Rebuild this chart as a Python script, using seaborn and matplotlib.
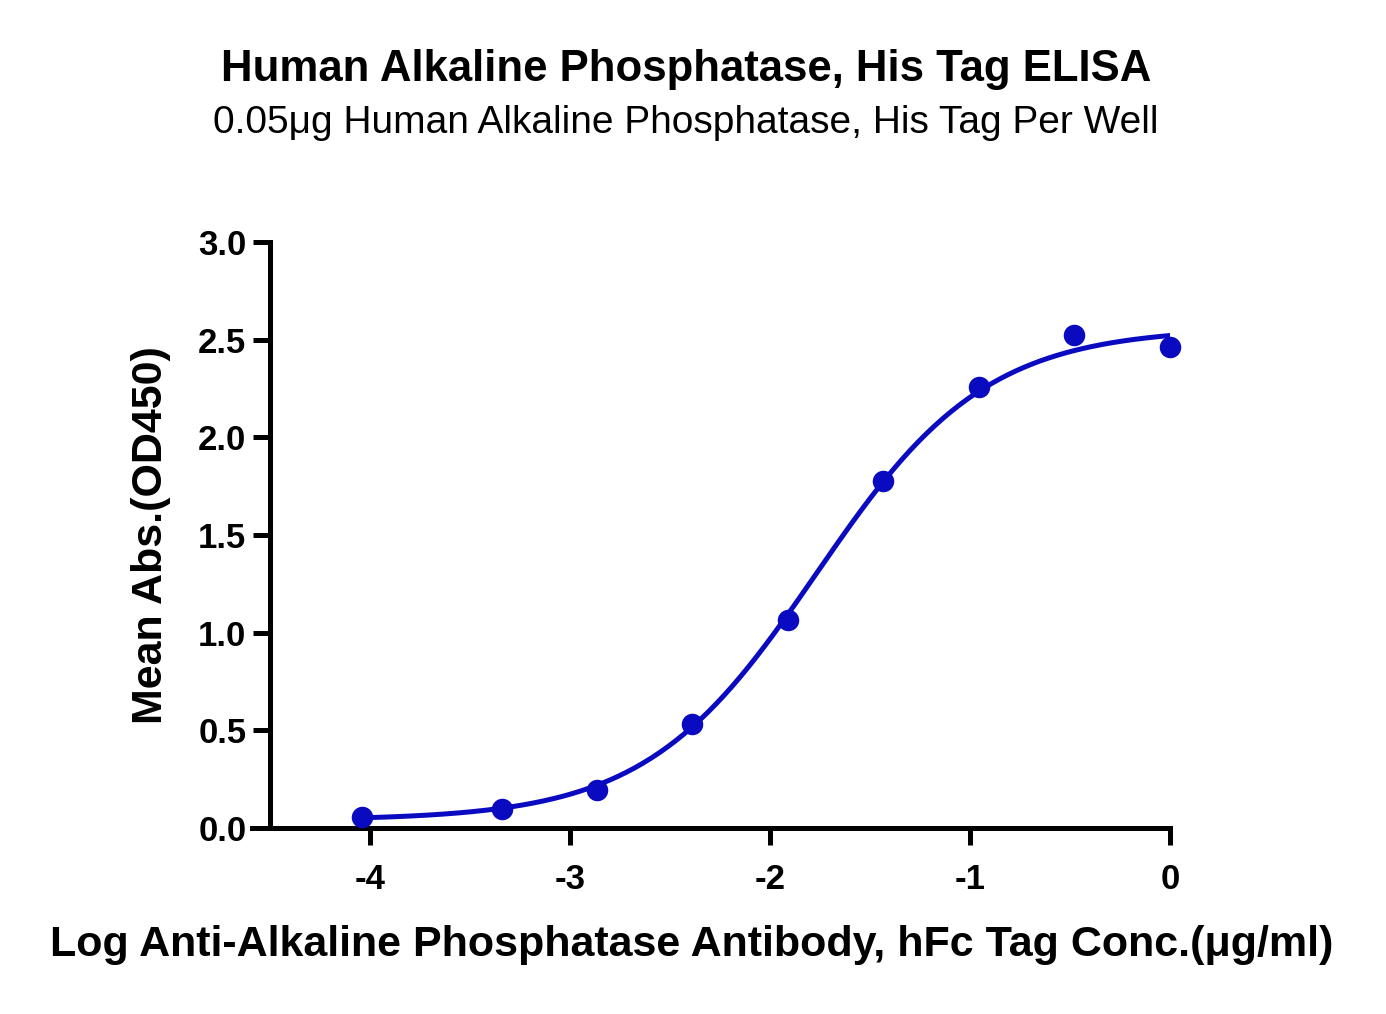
import numpy as np
import pandas as pd
import matplotlib
matplotlib.use('Agg')
import matplotlib.pyplot as plt
import seaborn as sns

# Data (log conc. in ug/ml vs mean OD450)
log_conc = [-4.04, -3.34, -2.865, -2.39, -1.91, -1.435, -0.955, -0.48, 0.0]
mean_abs = [0.056, 0.097, 0.195, 0.53, 1.065, 1.777, 2.258, 2.524, 2.463]

# 4PL fit parameters (estimated from the drawn curve)
fit_bottom = 0.04
fit_top = 2.56
fit_logec50 = -1.77
fit_hill = 1.02

x_ticks = [-4, -3, -2, -1, 0]
y_ticks = [0.0, 0.5, 1.0, 1.5, 2.0, 2.5, 3.0]

title = "Human Alkaline Phosphatase, His Tag ELISA"
subtitle = "0.05μg Human Alkaline Phosphatase, His Tag Per Well"
x_label = "Log Anti-Alkaline Phosphatase Antibody, hFc Tag Conc.(μg/ml)"
y_label = "Mean Abs.(OD450)"

color = '#0a0ac0'

sns.set_style('ticks')
plt.rcParams['font.family'] = ['Liberation Sans', 'DejaVu Sans']
plt.rcParams['text.color'] = 'black'
plt.rcParams['axes.labelcolor'] = 'black'
plt.rcParams['xtick.color'] = 'black'
plt.rcParams['ytick.color'] = 'black'
plt.rcParams['axes.edgecolor'] = 'black'

df = pd.DataFrame({'x': log_conc, 'y': mean_abs})
xf = np.linspace(min(log_conc), max(log_conc), 300)
yf = fit_bottom + (fit_top - fit_bottom) / (1 + 10 ** ((fit_logec50 - xf) * fit_hill))
fit = pd.DataFrame({'x': xf, 'y': yf})

fig = plt.figure(figsize=(13.86, 10.14), dpi=100)
ax = fig.add_axes([252 / 1386, 1 - 828 / 1014, (1170 - 252) / 1386, (828 - 242) / 1014])

sns.lineplot(data=fit, x='x', y='y', ax=ax, color=color, linewidth=3.6)
sns.scatterplot(data=df, x='x', y='y', ax=ax, color=color, s=240, edgecolor=color,
                linewidth=0, zorder=3, clip_on=False)

ax.set_xlim(-4.59, 0)
ax.set_ylim(0, 3.0)
ax.set_xticks(x_ticks)
ax.set_xticklabels([str(t) for t in x_ticks])
ax.set_yticks(y_ticks)
ax.set_yticklabels([f"{t:.1f}" for t in y_ticks])

ax.spines['left'].set_position(('data', -4.5))
ax.spines['top'].set_visible(False)
ax.spines['right'].set_visible(False)
for s in ['left', 'bottom']:
    ax.spines[s].set_linewidth(3.6)
    ax.spines[s].set_capstyle('projecting')
ax.tick_params(width=3.6, length=12, labelsize=25)
ax.tick_params(axis='y', pad=5)
ax.tick_params(axis='x', pad=13)
for lab in ax.get_xticklabels() + ax.get_yticklabels():
    lab.set_fontweight('bold')

ax.set_xlabel(x_label, fontsize=31, fontweight='bold')
ax.set_ylabel(y_label, fontsize=31, fontweight='bold')
ax.xaxis.label.set_va('center')
ax.xaxis.set_label_coords((692 - 252) / 918, -(945 - 828) / 586)
ax.yaxis.label.set_va('center')
ax.yaxis.set_label_coords((151 - 252) / 918, 0.5)

fig.text(686 / 1386, 1 - 69 / 1014, title, ha='center', va='center', fontsize=31.5, fontweight='bold')
fig.text(686 / 1386, 1 - 123 / 1014, subtitle, ha='center', va='center', fontsize=28)

fig.savefig('out.png', dpi=100)
